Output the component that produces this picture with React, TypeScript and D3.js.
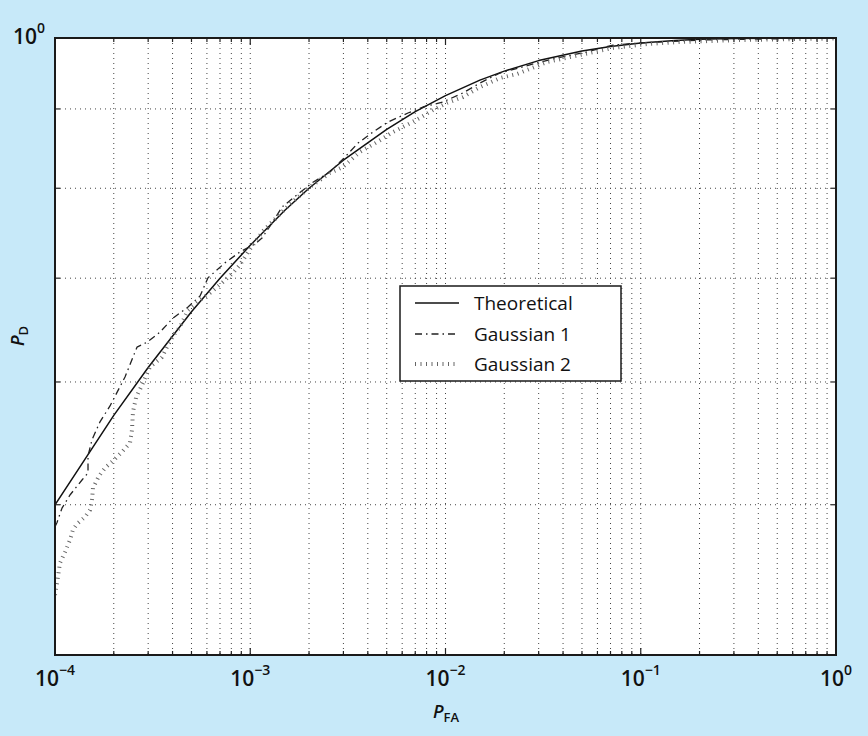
import React from "react";
import * as d3 from "d3";

// ---- data ----
const pfaTheory = [1e-4, 2e-4, 3e-4, 5e-4, 7e-4, 1e-3, 1.5e-3, 2e-3, 3e-3, 5e-3, 7e-3, 1e-2, 1.5e-2, 2e-2, 3e-2, 5e-2, 7e-2, 0.1, 0.15, 0.2, 0.3, 0.5, 0.7, 1];
const pdTheory = [0.5, 0.571, 0.613, 0.666, 0.7, 0.735, 0.774, 0.8, 0.834, 0.873, 0.8965, 0.918, 0.9393, 0.952, 0.967, 0.981, 0.9876, 0.9926, 0.9964, 0.998, 0.9993, 0.9999, 1.0, 1.0];

const pfaGauss1 = [1.0e-4, 1.024e-4, 1.086e-4, 1.193e-4, 1.375e-4, 1.476e-4, 1.476e-4, 1.547e-4, 1.7e-4, 1.913e-4, 2.283e-4, 2.508e-4, 2.63e-4, 2.96e-4, 3.45e-4, 4.02e-4, 4.8e-4, 5.53e-4, 6.07e-4, 7.42e-4, 8.86e-4, 1.057e-3, 1.149e-3, 1.292e-3, 1.454e-3, 1.735e-3, 2.072e-3, 2.562e-3, 3.057e-3, 3.563e-3, 4.253e-3, 5.076e-3, 6.425e-3, 7.67e-3, 9.71e-3, 1.229e-2, 1.502e-2, 1.901e-2, 2.942e-2, 3.724e-2, 5.305e-2, 7.21e-2, 9.91e-2, 0.2011, 0.408, 1.0];
const pdGauss1 = [0.484, 0.487, 0.4975, 0.5073, 0.5187, 0.5242, 0.5377, 0.5506, 0.5655, 0.579, 0.6044, 0.6225, 0.6318, 0.6365, 0.6461, 0.6597, 0.6706, 0.6817, 0.7003, 0.7161, 0.7278, 0.7364, 0.743, 0.7596, 0.778, 0.7922, 0.8064, 0.8196, 0.838, 0.8555, 0.8697, 0.8827, 0.8946, 0.9026, 0.9094, 0.9216, 0.9354, 0.9493, 0.9636, 0.9707, 0.9794, 0.9896, 0.9926, 0.997, 0.9985, 1.0];

const pfaGauss2 = [1.0e-4, 1.024e-4, 1.061e-4, 1.125e-4, 1.193e-4, 1.236e-4, 1.296e-4, 1.424e-4, 1.511e-4, 1.547e-4, 1.565e-4, 1.68e-4, 1.804e-4, 2.005e-4, 2.203e-4, 2.421e-4, 2.479e-4, 2.508e-4, 2.6e-4, 2.823e-4, 3.066e-4, 3.532e-4, 3.791e-4, 4.02e-4, 4.37e-4, 4.8e-4, 5.53e-4, 6.22e-4, 7.25e-4, 8.16e-4, 8.86e-4, 9.97e-4, 1.163e-3, 1.371e-3, 1.598e-3, 2.023e-3, 2.562e-3, 2.985e-3, 3.648e-3, 4.46e-3, 5.38e-3, 6.35e-3, 7.4e-3, 8.63e-3, 1.018e-2, 1.229e-2, 1.502e-2, 1.901e-2, 2.323e-2, 3.31e-2, 4.89e-2, 7.21e-2, 0.1076, 0.1589, 0.3223, 0.654, 1.0];
const pdGauss2 = [0.4373, 0.4452, 0.4586, 0.4661, 0.4745, 0.4816, 0.4859, 0.491, 0.4961, 0.5035, 0.5126, 0.5218, 0.5281, 0.5344, 0.5408, 0.5481, 0.5587, 0.574, 0.5861, 0.5992, 0.6136, 0.6225, 0.6339, 0.6425, 0.6512, 0.6676, 0.6776, 0.6847, 0.6961, 0.7055, 0.714, 0.7309, 0.7508, 0.7667, 0.7815, 0.8016, 0.8183, 0.8258, 0.8443, 0.8567, 0.8697, 0.879, 0.888, 0.8987, 0.908, 0.9161, 0.9298, 0.9423, 0.9479, 0.965, 0.9751, 0.9853, 0.9911, 0.9941, 0.997, 0.9985, 0.9993];

const xDecadeExps = [-4, -3, -2, -1, 0];
const yGridValues = [0.5, 0.6, 0.7, 0.8, 0.9];
const yTickExps = [0];
const legendLabels = ["Theoretical", "Gaussian 1", "Gaussian 2"];

const W = 868;
const H = 736;
const L = 55, R = 836, T = 38, B = 655;
const FONT = "'Open Sans', 'Noto Sans', sans-serif";

const styles = [
  { stroke: "#111", width: 1.5, dash: undefined as string | undefined },
  { stroke: "#222", width: 1.3, dash: "7 4 1.5 4" },
  { stroke: "#666", width: 4, dash: "1 4.5" },
];

export default function App() {
  const x = d3.scaleLog().domain([1e-4, 1]).range([L, R]);
  const y = d3.scaleLog().domain([0.4, 1]).range([B, T]);

  const line = d3
    .line<[number, number]>()
    .x((d) => x(d[0]))
    .y((d) => y(d[1]));

  const series: [number, number][][] = [
    pfaTheory.map((v, i) => [v, pdTheory[i]] as [number, number]),
    pfaGauss1.map((v, i) => [v, pdGauss1[i]] as [number, number]),
    pfaGauss2.map((v, i) => [v, pdGauss2[i]] as [number, number]),
  ];

  const xMinor: number[] = [];
  const xMajor: number[] = [];
  xDecadeExps.forEach((e) => {
    xMajor.push(Math.pow(10, e));
    if (e < 0) {
      for (let k = 2; k <= 9; k++) xMinor.push(k * Math.pow(10, e));
    }
  });
  const xGrid = [...xMajor.filter((v) => v > 1e-4 && v < 1), ...xMinor];

  const legX = 400, legY = 286, legW = 221, legH = 95;
  const legRows = [303, 334, 364];

  return (
    <svg
      width={W}
      height={H}
      style={{ position: "absolute", left: 0, top: 0, display: "block" }}
      fontFamily={FONT}
    >
      <defs>
        <clipPath id="plotclip">
          <rect x={L} y={T} width={R - L} height={B - T} />
        </clipPath>
      </defs>
      <rect x={0} y={0} width={W} height={H} fill="#c7e9f9" />
      <rect x={L} y={T} width={R - L} height={B - T} fill="#fff" />

      {/* grid */}
      <g stroke="#444" strokeWidth={1} strokeDasharray="1 4" fill="none">
        {xGrid.map((v, i) => (
          <line key={"gx" + i} x1={x(v)} x2={x(v)} y1={T} y2={B} />
        ))}
        {yGridValues.map((v, i) => (
          <line key={"gy" + i} x1={L} x2={R} y1={y(v)} y2={y(v)} />
        ))}
      </g>

      {/* ticks */}
      <g stroke="#222" strokeWidth={1.2}>
        {xMajor.map((v, i) => (
          <g key={"tM" + i}>
            <line x1={x(v)} x2={x(v)} y1={B} y2={B - 7} />
            <line x1={x(v)} x2={x(v)} y1={T} y2={T + 7} />
          </g>
        ))}
        {xMinor.map((v, i) => (
          <g key={"tm" + i}>
            <line x1={x(v)} x2={x(v)} y1={B} y2={B - 4} />
            <line x1={x(v)} x2={x(v)} y1={T} y2={T + 4} />
          </g>
        ))}
        {yGridValues.map((v, i) => (
          <g key={"ty" + i}>
            <line x1={L} x2={L + 5} y1={y(v)} y2={y(v)} />
            <line x1={R} x2={R - 5} y1={y(v)} y2={y(v)} />
          </g>
        ))}
      </g>

      {/* curves */}
      <g clipPath="url(#plotclip)" fill="none">
        {series.map((s, i) => (
          <path
            key={"s" + i}
            d={line(s) || ""}
            stroke={styles[i].stroke}
            strokeWidth={styles[i].width}
            strokeDasharray={styles[i].dash}
            strokeLinejoin="round"
          />
        ))}
      </g>

      {/* frame */}
      <rect x={L} y={T} width={R - L} height={B - T} fill="none" stroke="#1a1a1a" strokeWidth={2} />

      {/* x tick labels */}
      {xDecadeExps.map((e, i) => (
        <text key={"xl" + i} x={x(Math.pow(10, e))} y={686} textAnchor="middle" fontSize={21} fontWeight={600} fill="#111">
          10
          <tspan fontSize={14} dy={-11}>{e < 0 ? "\u2212" + Math.abs(e) : String(e)}</tspan>
        </text>
      ))}

      {/* y tick labels */}
      {yTickExps.map((e, i) => (
        <text key={"yl" + i} x={45} y={y(Math.pow(10, e)) + 6} textAnchor="end" fontSize={21} fontWeight={600} fill="#111">
          10
          <tspan fontSize={14} dy={-11}>{String(e)}</tspan>
        </text>
      ))}

      {/* axis labels */}
      <text x={446} y={718} textAnchor="middle" fontSize={18} fontWeight={600} fill="#111">
        <tspan fontStyle="italic">P</tspan>
        <tspan fontSize={13} dy={4}>FA</tspan>
      </text>
      <text transform="translate(24,336) rotate(-90)" textAnchor="middle" fontSize={18} fontWeight={600} fill="#111">
        <tspan fontStyle="italic">P</tspan>
        <tspan fontSize={13} dy={4}>D</tspan>
      </text>

      {/* legend */}
      <rect x={legX} y={legY} width={legW} height={legH} fill="#fff" stroke="#1a1a1a" strokeWidth={1.5} />
      {legendLabels.map((lab, i) => (
        <g key={"lg" + i}>
          <line
            x1={415}
            x2={459}
            y1={legRows[i]}
            y2={legRows[i]}
            stroke={styles[i].stroke}
            strokeWidth={styles[i].width}
            strokeDasharray={styles[i].dash}
          />
          <text x={474} y={legRows[i] + 7} fontSize={19} fontWeight={500} fill="#111">
            {lab}
          </text>
        </g>
      ))}
    </svg>
  );
}
